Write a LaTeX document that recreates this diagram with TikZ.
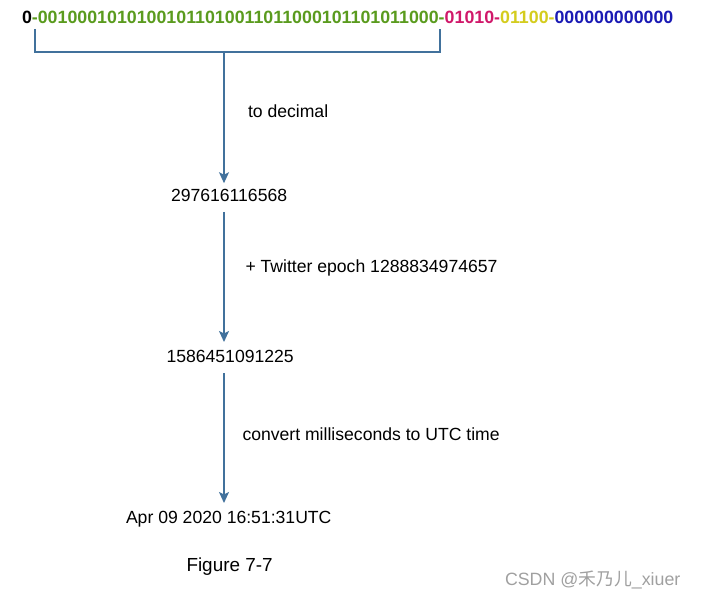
\documentclass[tikz,border=0pt]{standalone}
\usepackage{fontspec}
\setmainfont{Liberation Sans}
\newfontfamily\cjkfont{Noto Sans CJK SC}
\usetikzlibrary{arrows.meta}
\definecolor{bitgreen}{RGB}{90,155,30}
\definecolor{bitmagenta}{RGB}{208,24,106}
\definecolor{bityellow}{RGB}{212,204,30}
\definecolor{bitblue}{RGB}{26,26,180}
\definecolor{arrowblue}{RGB}{65,113,156}
\definecolor{wmgray}{RGB}{160,160,160}
\begin{document}
\begin{tikzpicture}[x=1pt,y=-1pt,
  txt/.style={inner sep=0pt, outer sep=0pt, anchor=base west, font=\fontsize{17.6}{20}\selectfont},
  bitstxt/.style={txt, font=\fontsize{17.8}{20}\selectfont\bfseries},
  figtxt/.style={txt, font=\fontsize{18.9}{22}\selectfont},
  wmtxt/.style={txt, text=wmgray, font=\fontsize{17.8}{20}\selectfont},
  bracket/.style={draw=arrowblue, line width=1.4pt},
  arr/.style={draw=arrowblue, line width=1.5pt, -{Stealth[length=11pt,width=10pt,inset=2.5pt]}}
]
\useasboundingbox (0,0) rectangle (704,596);
\node[bitstxt] (bits) at (22,24) {0\textcolor{bitgreen}{-00100010101001011010011011000101101011000-}\textcolor{bitmagenta}{01010-}\textcolor{bityellow}{01100-}\textcolor{bitblue}{000000000000}};
\coordinate (bl) at (35,29);
\coordinate (br) at (440,29);
\coordinate (stem) at (224,52);
\draw[bracket] (bl) -- (bl |- stem) -- (br |- stem) -- (br);
\node[txt] (l1) at (248,118) {to decimal};
\node[txt] (d1) at (171,202) {297616116568};
\node[txt] (l2) at (245.5,272) {+ Twitter epoch 1288834974657};
\node[txt] (d2) at (166.5,362) {1586451091225};
\node[txt] (l3) at (242.5,440) {convert milliseconds to UTC time};
\node[txt] (d3) at (126,523) {Apr 09 2020 16:51:31UTC};
\node[figtxt] (fig) at (186.5,571) {Figure 7-7};
\node[wmtxt] (wm) at (505,585) {CSDN @{\cjkfont 禾乃儿}\_xiuer};
\draw[arr, shorten >=6.5pt] (stem) -- (stem |- d1.north);
\draw[arr, shorten <=9.7pt, shorten >=7.7pt] (stem |- d1.south) -- (stem |- d2.north);
\draw[arr, shorten <=11pt, shorten >=7.7pt] (stem |- d2.south) -- (stem |- d3.north);
\end{tikzpicture}
\end{document}
